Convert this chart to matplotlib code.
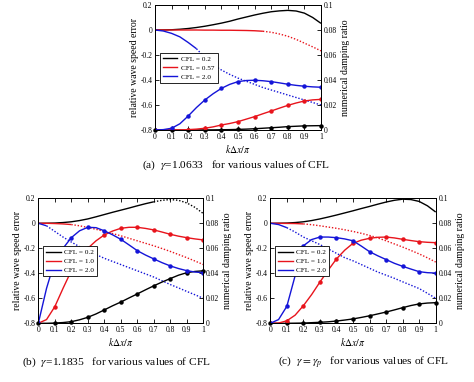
import numpy as np
import matplotlib
matplotlib.use('Agg')
import matplotlib.pyplot as plt
from matplotlib.lines import Line2D

plt.rcParams['font.family'] = ['Liberation Serif', 'DejaVu Serif']
plt.rcParams['mathtext.fontset'] = 'stix'
plt.rcParams['axes.unicode_minus'] = False

# ---------------- data ----------------
x = [0, 0.05, 0.1, 0.15, 0.2, 0.25, 0.3, 0.35, 0.4, 0.45, 0.5,
     0.55, 0.6, 0.65, 0.7, 0.75, 0.8, 0.85, 0.9, 0.95, 1.0]

xticks = [0, 0.1, 0.2, 0.3, 0.4, 0.5, 0.6, 0.7, 0.8, 0.9, 1]
xtick_labels = ['0', '0.1', '0.2', '0.3', '0.4', '0.5', '0.6', '0.7', '0.8', '0.9', '1']
yticks_left = [0.2, 0, -0.2, -0.4, -0.6, -0.8]
ytick_labels_left = ['0.2', '0', '-0.2', '-0.4', '-0.6', '-0.8']
yticks_right = [0.1, 0.08, 0.06, 0.04, 0.02, 0]
ytick_labels_right = ['0.1', '0.08', '0.06', '0.04', '0.02', '0']

# panel (a)  gamma = 1.0633, CFL = 0.2, 0.57, 2.0
cfl_a = ['0.2', '0.57', '2.0']
err_a_black = [0, 0.0005, 0.002, 0.006, 0.012, 0.02, 0.03, 0.042, 0.055, 0.07, 0.088,
               0.104, 0.12, 0.134, 0.146, 0.153, 0.157, 0.152, 0.135, 0.1, 0.053]
err_a_red = [0, 0, 0, 0, 0, 0, -0.001, -0.001, -0.002, -0.002, -0.003,
             -0.004, -0.006, -0.01, -0.018, -0.032, -0.05, -0.075, -0.105, -0.135, -0.167]
err_a_blue = [0, -0.008, -0.027, -0.055, -0.1, -0.15, -0.22, -0.28, -0.32, -0.355, -0.385,
              -0.41, -0.435, -0.46, -0.48, -0.5, -0.52, -0.54, -0.56, -0.58, -0.6]
damp_a_black = [0, 0, 0, 0, 0, 0, 0.0001, 0.0001, 0.0002, 0.0003, 0.0005,
                0.0007, 0.001, 0.0014, 0.0018, 0.0022, 0.0027, 0.003, 0.0033, 0.0034, 0.0035]
damp_a_red = [0, 0, 0, 0.0001, 0.0003, 0.0007, 0.0014, 0.0025, 0.004, 0.0052, 0.0067,
              0.0087, 0.0107, 0.013, 0.0152, 0.0175, 0.0197, 0.0216, 0.0232, 0.0241, 0.0245]
damp_a_blue = [0, 0.0003, 0.0014, 0.005, 0.0112, 0.018, 0.024, 0.029, 0.0333, 0.0365, 0.0387,
               0.0396, 0.0398, 0.0394, 0.0387, 0.0377, 0.0366, 0.0357, 0.035, 0.0345, 0.0342]

# panel (b)  gamma = 1.1835, CFL = 0.2, 1.0, 2.0
cfl_b = ['0.2', '1.0', '2.0']
err_b_black = [0, 0.0005, 0.002, 0.006, 0.012, 0.022, 0.035, 0.052, 0.07, 0.088, 0.105,
               0.122, 0.14, 0.157, 0.172, 0.184, 0.19, 0.184, 0.163, 0.127, 0.078]
err_b_red = [0, 0, -0.002, -0.005, -0.01, -0.02, -0.033, -0.048, -0.065, -0.082, -0.1,
             -0.12, -0.14, -0.16, -0.18, -0.202, -0.225, -0.25, -0.275, -0.302, -0.33]
err_b_blue = [0, -0.02, -0.065, -0.11, -0.15, -0.187, -0.22, -0.25, -0.28, -0.305, -0.33,
              -0.355, -0.38, -0.405, -0.43, -0.46, -0.49, -0.517, -0.545, -0.572, -0.6]
damp_b_black = [0, 0, 0.0002, 0.0006, 0.0013, 0.0028, 0.0048, 0.0075, 0.0107, 0.014, 0.017,
                0.0203, 0.0235, 0.0268, 0.03, 0.033, 0.0358, 0.0385, 0.0405, 0.0415, 0.042]
damp_b_red = [0, 0.003, 0.0133, 0.028, 0.042, 0.052, 0.06, 0.066, 0.0707, 0.0738, 0.076,
              0.0768, 0.0768, 0.0759, 0.0747, 0.073, 0.0712, 0.0697, 0.0685, 0.0675, 0.0667]
damp_b_blue = [0, 0.028, 0.05, 0.06, 0.0685, 0.074, 0.0768, 0.0765, 0.074, 0.0708, 0.0672,
               0.0627, 0.0581, 0.0546, 0.0515, 0.0485, 0.0459, 0.0438, 0.0421, 0.041, 0.0405]

# panel (c)  gamma = gamma_p, CFL = 0.2, 1.0, 2.0
cfl_c = ['0.2', '1.0', '2.0']
err_c_black = [0, 0.0005, 0.002, 0.006, 0.012, 0.022, 0.035, 0.05, 0.066, 0.083, 0.1,
               0.118, 0.135, 0.153, 0.17, 0.184, 0.193, 0.19, 0.175, 0.14, 0.09]
err_c_red = [0, 0, -0.001, -0.002, -0.005, -0.011, -0.02, -0.03, -0.04, -0.052, -0.065,
             -0.08, -0.097, -0.117, -0.14, -0.165, -0.19, -0.217, -0.245, -0.276, -0.31]
err_c_blue = [0, -0.01, -0.035, -0.07, -0.11, -0.14, -0.17, -0.205, -0.24, -0.275, -0.3,
              -0.33, -0.36, -0.39, -0.415, -0.44, -0.468, -0.495, -0.522, -0.56, -0.6]
damp_c_black = [0, 0, 0, 0.0001, 0.0002, 0.0005, 0.0008, 0.0012, 0.0018, 0.0026, 0.0035,
                0.0047, 0.006, 0.0075, 0.009, 0.0107, 0.0125, 0.0142, 0.0155, 0.0162, 0.0165]
damp_c_red = [0, 0.0002, 0.002, 0.0065, 0.0141, 0.023, 0.033, 0.0425, 0.0515, 0.0585, 0.064,
              0.0665, 0.068, 0.0688, 0.069, 0.0683, 0.0672, 0.0662, 0.0653, 0.0648, 0.0645]
damp_c_blue = [0, 0.003, 0.0136, 0.038, 0.062, 0.067, 0.069, 0.069, 0.0685, 0.0675, 0.066,
               0.0618, 0.0573, 0.054, 0.051, 0.048, 0.0456, 0.0434, 0.0413, 0.0405, 0.0402]

captions = [r'(a)  $\gamma$=1.0633   for various values of CFL',
            r'(b)  $\gamma$=1.1835   for various values of CFL',
            r'(c)  $\gamma=\gamma_p$   for various values of CFL']

# ---------------- style ----------------
colors = ['#000000', '#e8141c', '#1414d8']
W, H = 474.0, 382.0
panels = [
    dict(rect=[155 / W, 1 - 130 / H, 166 / W, 125 / H], cfl=cfl_a,
         err=[err_a_black, err_a_red, err_a_blue],
         damp=[damp_a_black, damp_a_red, damp_a_blue],
         solid_until=[1.0, 0.65, 0.25], cap=captions[0], cap_xy=(142 / W, 1 - 165 / H)),
    dict(rect=[38.3 / W, 1 - 323.3 / H, 165 / W, 125 / H], cfl=cfl_b,
         err=[err_b_black, err_b_red, err_b_blue],
         damp=[damp_b_black, damp_b_red, damp_b_blue],
         solid_until=[0.7, 0.2, 0.05], cap=captions[1], cap_xy=(22 / W, 1 - 362 / H)),
    dict(rect=[270.3 / W, 1 - 323.3 / H, 165.4 / W, 125 / H], cfl=cfl_c,
         err=[err_c_black, err_c_red, err_c_blue],
         damp=[damp_c_black, damp_c_red, damp_c_blue],
         solid_until=[1.0, 0.2, 0.1], cap=captions[2], cap_xy=(278 / W, 1 - 362 / H)),
]

fig = plt.figure(figsize=(4.74, 3.82), dpi=100)
xa = np.array(x)
tick_fs = 5.5
lab_fs = 7
lw = 1.0

for p in panels:
    ax = fig.add_axes(p['rect'])
    ax2 = ax.twinx()
    for k in range(3):
        e = np.array(p['err'][k])
        cut = p['solid_until'][k]
        m1 = xa <= cut + 1e-9
        m2 = xa >= cut - 1e-9
        ax.plot(xa[m1], e[m1], color=colors[k], lw=lw, solid_capstyle='butt')
        if m2.sum() > 1:
            ax.plot(xa[m2], e[m2], color=colors[k], lw=1.0, linestyle=(0, (1, 1.3)))
        ax2.plot(xa, p['damp'][k], color=colors[k], lw=lw, marker='o', markersize=2.2,
                 markevery=2, clip_on=False if k == 0 else True)
    ax.set_xlim(0, 1)
    ax.set_ylim(-0.8, 0.2)
    ax2.set_ylim(0, 0.1)
    ax.set_xticks(xticks)
    ax.set_xticklabels(xtick_labels, fontsize=tick_fs)
    ax.set_yticks(yticks_left)
    ax.set_yticklabels(ytick_labels_left, fontsize=tick_fs)
    ax2.set_yticks(yticks_right)
    ax2.set_yticklabels(ytick_labels_right, fontsize=tick_fs)
    ax.tick_params(direction='in', length=3, width=0.6, top=True, pad=2)
    ax2.tick_params(direction='in', length=3, width=0.6, pad=2)
    for a in (ax, ax2):
        for s in a.spines.values():
            s.set_linewidth(0.7)
    ax.set_xlabel(r'$k\Delta x/\pi$', fontsize=lab_fs, labelpad=1.5)
    ax.set_ylabel('relative wave speed error', fontsize=lab_fs, labelpad=1)
    ax2.set_ylabel('numerical damping ratio', fontsize=lab_fs, labelpad=3)
    handles = [Line2D([], [], color=colors[k], lw=lw) for k in range(3)]
    labels = ['CFL = ' + c for c in p['cfl']]
    leg = ax2.legend(handles, labels, loc='upper left', bbox_to_anchor=(0.02, 0.63),
                     fontsize=5.2, frameon=True, fancybox=False, edgecolor='black',
                     framealpha=1, handlelength=2.0, borderpad=0.45, labelspacing=0.4,
                     handletextpad=0.5, borderaxespad=0.2)
    leg.get_frame().set_linewidth(0.6)
    leg.set_zorder(10)
    fig.text(p['cap_xy'][0], p['cap_xy'][1], p['cap'], fontsize=8.2, ha='left', va='center')

fig.savefig('out.png', dpi=100)
